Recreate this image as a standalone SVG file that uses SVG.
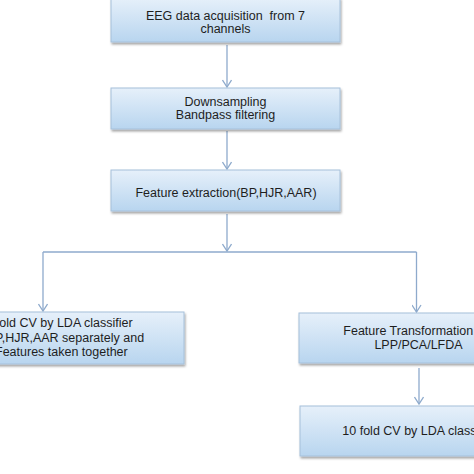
<svg xmlns="http://www.w3.org/2000/svg" width="474" height="474" viewBox="0 0 474 474">
<defs>
<linearGradient id="g" x1="0" y1="0" x2="0" y2="1">
<stop offset="0" stop-color="#e6f0fa"/>
<stop offset="1" stop-color="#b8d5ef"/>
</linearGradient>
<filter id="sh" x="-10%" y="-20%" width="130%" height="150%">
<feDropShadow dx="1" dy="2" stdDeviation="1.2" flood-color="#000" flood-opacity="0.35"/>
</filter>
<marker id="ah" markerUnits="userSpaceOnUse" markerWidth="12" markerHeight="10" refX="10" refY="5" orient="auto">
<path d="M3,0.5 L10,5 L3,9.5" fill="none" stroke="#8eaacc" stroke-width="1.3"/>
</marker>
</defs>
<style>
.box{fill:url(#g);stroke:#a6c0da;stroke-width:1;filter:url(#sh)}
.t{font-family:"Liberation Sans",Arial,sans-serif;font-size:12.5px;fill:#1e1e1e;white-space:pre}
.c{text-anchor:middle}
.ln{fill:none;stroke:#8eaacc;stroke-width:1.3}
</style>
<rect width="474" height="474" fill="#fff"/>
<g id="connectors">
<line class="ln" x1="227" y1="45" x2="227" y2="87" marker-end="url(#ah)"/>
<line class="ln" x1="227" y1="131" x2="227" y2="169" marker-end="url(#ah)"/>
<line class="ln" x1="227" y1="214" x2="227" y2="251" marker-end="url(#ah)"/>
<line class="ln" x1="43" y1="252" x2="416.5" y2="252"/>
<line class="ln" x1="43" y1="252" x2="43" y2="311" marker-end="url(#ah)"/>
<line class="ln" x1="416.5" y1="252" x2="416.5" y2="312" marker-end="url(#ah)"/>
<line class="ln" x1="419" y1="368" x2="419" y2="404" marker-end="url(#ah)"/>
</g>
<g id="n1">
<rect class="box" x="111" y="-2" width="229" height="44"/>
<text class="t c" x="225.5" y="20">EEG data acquisition  from 7</text>
<text class="t c" x="225.5" y="32.5">channels</text>
</g>
<g id="n2">
<rect class="box" x="111" y="88" width="229" height="41"/>
<text class="t c" x="225.5" y="106">Downsampling</text>
<text class="t c" x="225.5" y="118.5">Bandpass filtering</text>
</g>
<g id="n3">
<rect class="box" x="111" y="170" width="229" height="41"/>
<text class="t c" x="226" y="197">Feature extraction(BP,HJR,AAR)</text>
</g>
<g id="n4">
<rect class="box" x="-70" y="312" width="254" height="52"/>
<text class="t" x="-21.6" y="327.3">10 fold CV by LDA classifier</text>
<text class="t" x="-13.4" y="341.7">BP,HJR,AAR separately and</text>
<text class="t" x="-5" y="356">Features taken together</text>
</g>
<g id="n5">
<rect class="box" x="299" y="313" width="200" height="50"/>
<text class="t" x="343.3" y="335">Feature Transformation</text>
<text class="t c" x="418.5" y="349.3">LPP/PCA/LFDA</text>
</g>
<g id="n6">
<rect class="box" x="300" y="406" width="200" height="50"/>
<text class="t" x="342.3" y="435">10 fold CV by LDA classifier</text>
</g>
</svg>
